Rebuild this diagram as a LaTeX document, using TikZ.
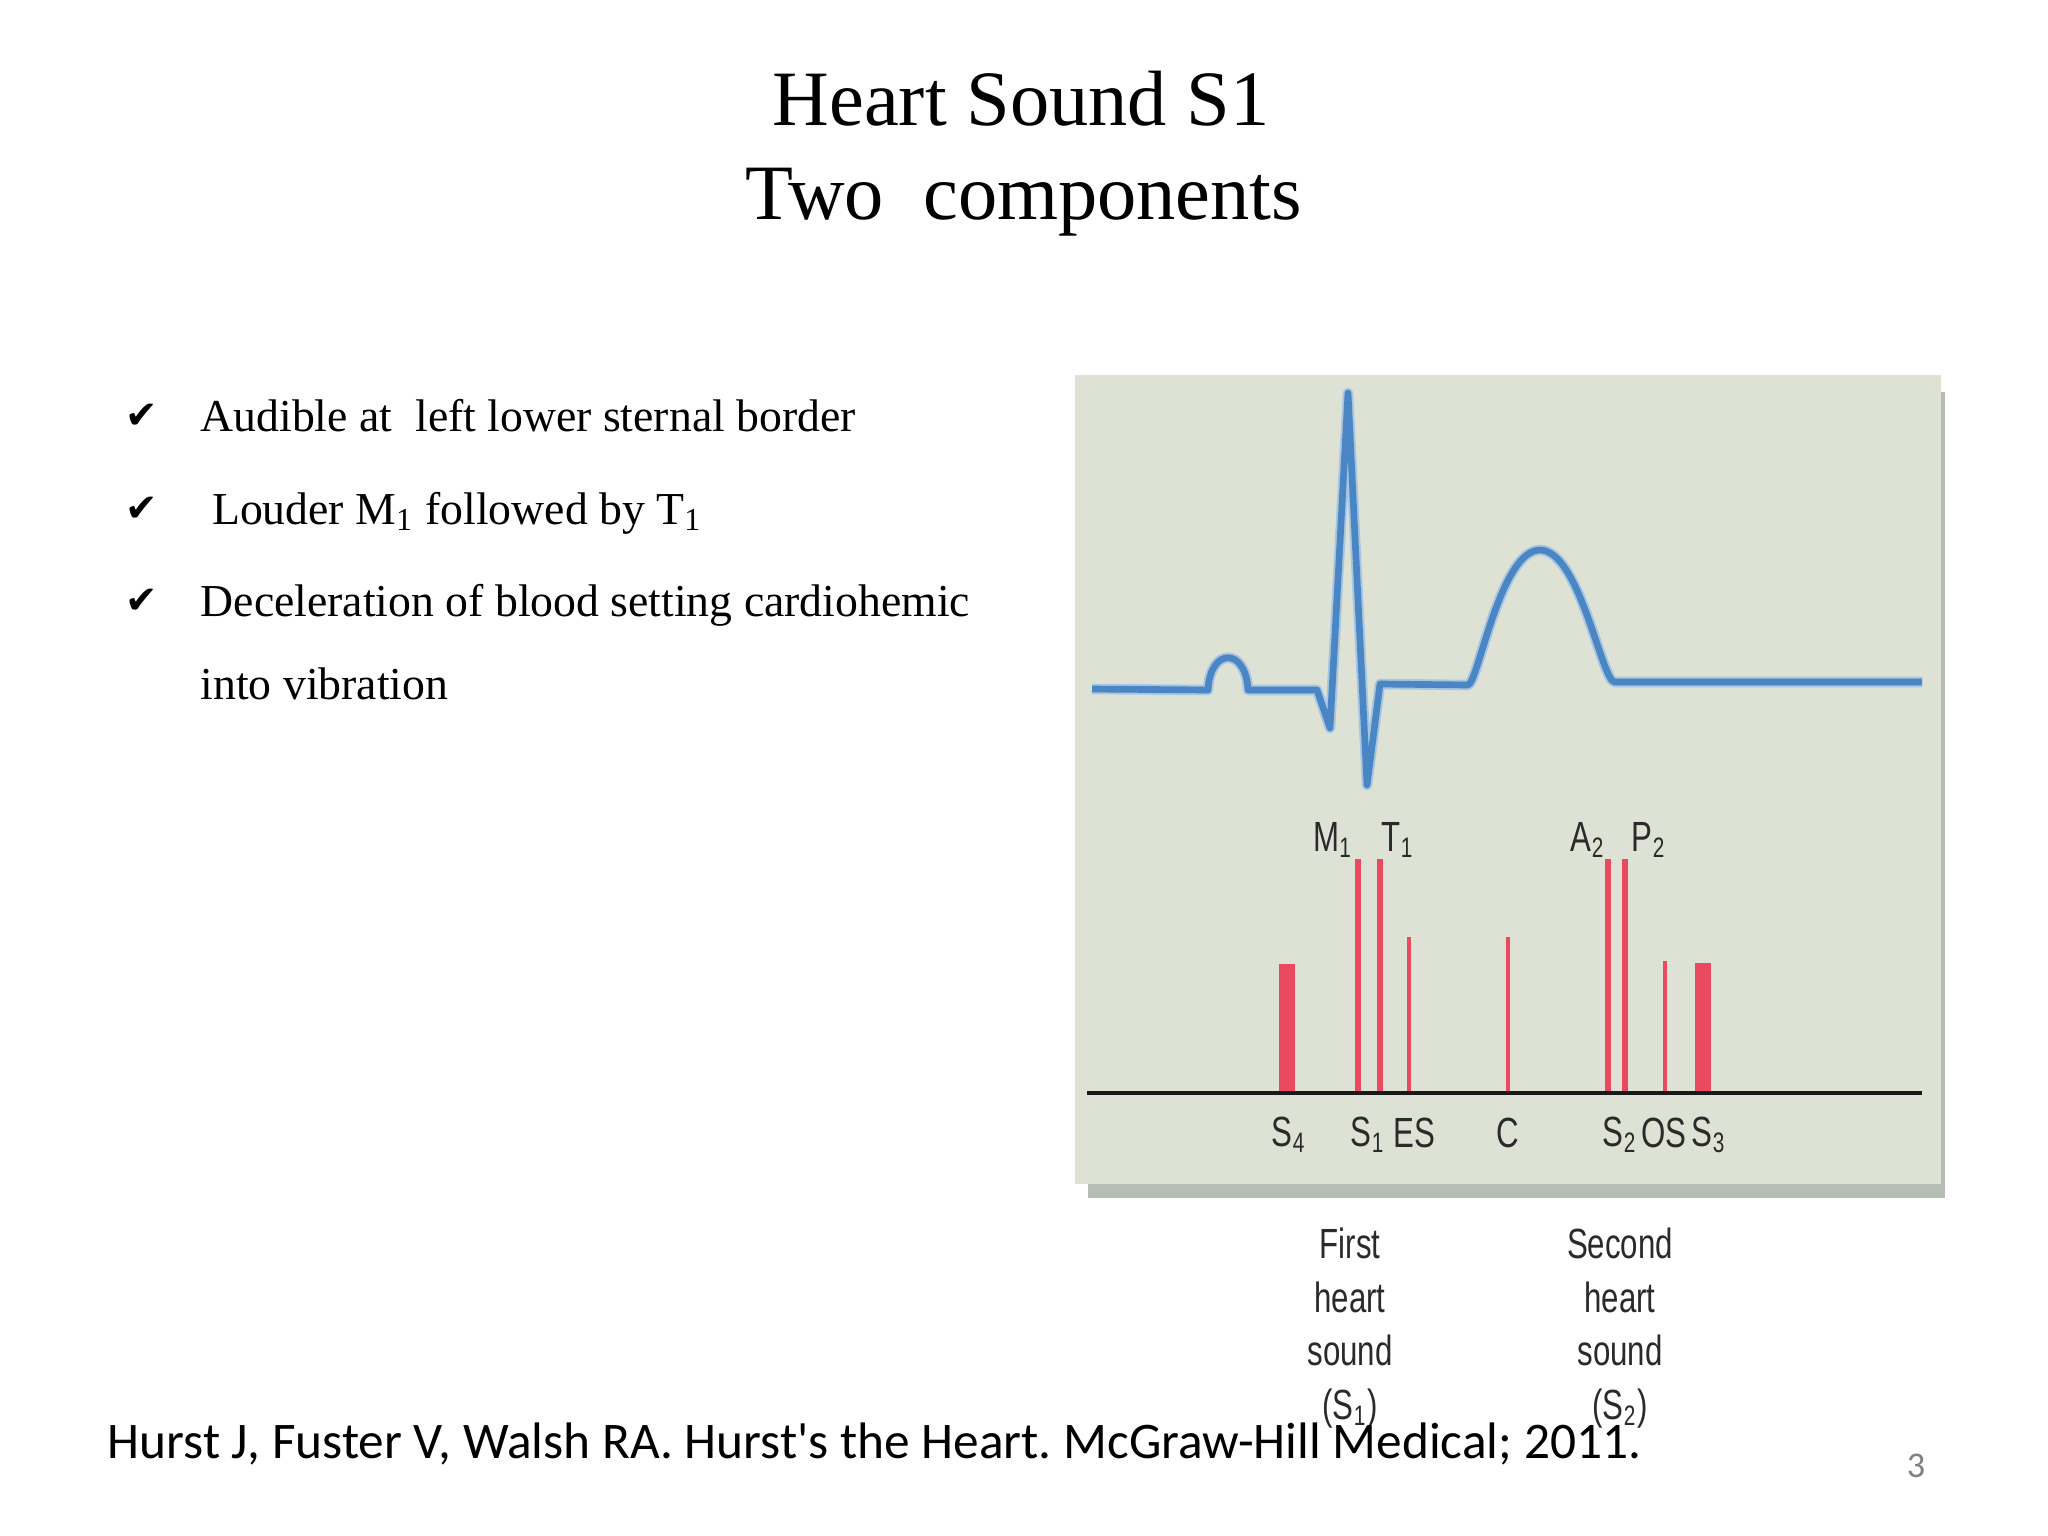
\documentclass[tikz,border=0pt]{standalone}
\usepackage{fontspec}
\setmainfont{Liberation Serif}
\newfontfamily\labf[FakeStretch=0.74]{Liberation Sans}
\newfontfamily\calib{Carlito}
\newfontfamily\symf{DejaVu Sans}
\definecolor{panel}{HTML}{DEE2D5}
\definecolor{shadowc}{HTML}{B6BDB3}
\definecolor{ecg}{HTML}{4A86C4}
\definecolor{ecglight}{HTML}{A8C6E2}
\definecolor{bar}{HTML}{EA4A60}
\definecolor{labc}{HTML}{2A2A2A}
\tikzset{
  titletext/.style={font=\fontsize{22.3}{27}\selectfont, anchor=base, inner sep=0pt},
  bullettext/.style={font=\fontsize{13}{16}\selectfont, anchor=base west, inner sep=0pt},
  checkmk/.style={font=\symf\fontsize{11}{13}\selectfont, anchor=base west, inner sep=0pt},
  lab/.style={font=\labf\fontsize{12}{15.2}\selectfont, text=labc, inner sep=0pt, align=center},
  thickbar/.style={bar, line width=4.4pt},
  midbar/.style={bar, line width=1.5pt},
  thinbar/.style={bar, line width=1.1pt},
}
\begin{document}
\frenchspacing
\begin{tikzpicture}[x=0.01cm,y=-0.01cm]
\useasboundingbox (0,0) rectangle (2048,1536);
\fill[white] (0,0) rectangle (2048,1536);
% title
\node[titletext] (t1) at (1021,125) {Heart Sound S1};
\node[titletext] (t2) at (1024,219) {Two\ \ components};
% bullets
\node[checkmk] (c1) at (125,428) {✔};
\node[checkmk] (c2) at (125,521) {✔};
\node[checkmk] (c3) at (125,613) {✔};
\node[bullettext] (b1) at (200,431) {Audible at\ \ left lower sternal border};
\node[bullettext] (b2) at (200,524) {\ Louder M\textsubscript{1} followed by T\textsubscript{1}};
\node[bullettext] (b3) at (200,616) {Deceleration of blood setting cardiohemic};
\node[bullettext] (b4) at (200,699) {into vibration};
% panel
\fill[shadowc] (1088,392) rectangle (1945,1198);
\fill[panel] (1075,375) rectangle (1941,1184);
% ECG
\def\ecgpath{(1092,689) -- (1208,690) .. controls (1210,647) and (1246,647) .. (1248,690)
  -- (1317,690) -- (1330,728) -- (1348,393) -- (1367,785) -- (1380,684) -- (1468,685)
  .. controls (1478,684) and (1500,550) .. (1540,550)
  .. controls (1580,550) and (1602,684) .. (1615,682) -- (1922,682)}
\draw[ecglight, line width=3pt, line join=round] \ecgpath;
\draw[ecg, line width=1.9pt, line join=round] \ecgpath;
% bars
\coordinate (s4b) at (1287,1093); \coordinate (s4t) at (1287,964);
\coordinate (m1b) at (1358,1093); \coordinate (m1t) at (1358,859);
\coordinate (t1b) at (1380,1093); \coordinate (t1t) at (1380,859);
\coordinate (esb) at (1409,1093); \coordinate (est) at (1409,937);
\coordinate (cb) at (1508,1093); \coordinate (ct) at (1508,937);
\coordinate (a2b) at (1608,1093); \coordinate (a2t) at (1608,859);
\coordinate (p2b) at (1625,1093); \coordinate (p2t) at (1625,859);
\coordinate (osb) at (1665,1093); \coordinate (ost) at (1665,961);
\coordinate (s3b) at (1703,1093); \coordinate (s3t) at (1703,963);
\draw[thickbar] (s4b) -- (s4t);
\draw[midbar] (m1b) -- (m1t);
\draw[midbar] (t1b) -- (t1t);
\draw[thinbar] (esb) -- (est);
\draw[thinbar] (cb) -- (ct);
\draw[midbar] (a2b) -- (a2t);
\draw[midbar] (p2b) -- (p2t);
\draw[thinbar] (osb) -- (ost);
\draw[thickbar] (s3b) -- (s3t);
% axis
\coordinate (axl) at (1087,1093); \coordinate (axr) at (1922,1093);
\draw[black!90, line width=1.2pt] (axl) -- (axr);
% top labels
\node[lab] (lm1) at (1333,840) {M\textsubscript{1}};
\node[lab] (lt1) at (1398,840) {T\textsubscript{1}};
\node[lab] (la2) at (1588,840) {A\textsubscript{2}};
\node[lab] (lp2) at (1649,840) {P\textsubscript{2}};
% bottom labels
\node[lab] (ls4) at (1289,1135) {S\textsubscript{4}};
\node[lab] (ls1) at (1368,1135) {S\textsubscript{1}};
\node[lab] (les) at (1414,1133) {ES};
\node[lab] (lc) at (1508,1133) {C};
\node[lab] (ls2) at (1620,1135) {S\textsubscript{2}};
\node[lab] (los) at (1664,1133) {OS};
\node[lab] (ls3) at (1709,1135) {S\textsubscript{3}};
% captions
\node[lab, anchor=base] (cap1) at (1350,1419) {First\\heart\\sound\\(S\textsubscript{1})};
\node[lab, anchor=base] (cap2) at (1620,1419) {Second\\heart\\sound\\(S\textsubscript{2})};
% footer
\node[font=\calib\fontsize{14.6}{17}\selectfont, anchor=base west, inner sep=0pt] (ref) at (107,1458)
  {Hurst J, Fuster V, Walsh RA. Hurst's the Heart. McGraw-Hill Medical; 2011.};
\node[font=\calib\fontsize{10.3}{12}\selectfont, text=black!50, inner sep=0pt] (pg) at (1916,1466) {3};
\end{tikzpicture}
\end{document}
